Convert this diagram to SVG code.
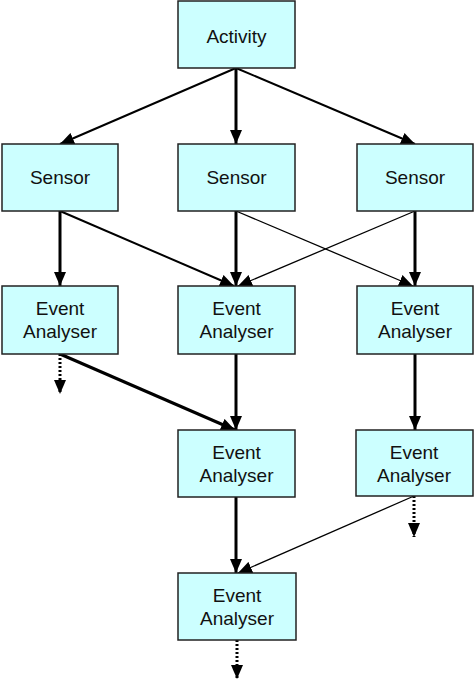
<svg xmlns="http://www.w3.org/2000/svg" width="474" height="685" viewBox="0 0 474 685">
<style>
.box{fill:#ccffff;stroke:#222;stroke-width:1.5}
.t{font-family:"Liberation Sans",Arial,sans-serif;font-size:19px;fill:#111;text-anchor:middle}
.c{fill:none;stroke:#000}
.thick{stroke-width:3}
.med{stroke-width:2}
.thin{stroke-width:1.3}
.dot{stroke-width:3;stroke-dasharray:2,2}
</style>
<defs>
<marker id="ah" markerUnits="userSpaceOnUse" markerWidth="14" markerHeight="12" viewBox="0 0 14 12" refX="14" refY="6" orient="auto">
<path d="M0,0 L14,6 L0,12 z" fill="#000"/>
</marker>
</defs>
<rect width="474" height="685" fill="#fff"/>
<g id="connectors">
<line class="c med" x1="236" y1="68" x2="60" y2="144" marker-end="url(#ah)"/>
<line class="c thick" x1="236" y1="68" x2="236" y2="144" marker-end="url(#ah)"/>
<line class="c med" x1="236" y1="68" x2="415" y2="144" marker-end="url(#ah)"/>
<line class="c thick" x1="60" y1="211" x2="60" y2="286" marker-end="url(#ah)"/>
<line class="c med" x1="60" y1="211" x2="234" y2="286" marker-end="url(#ah)"/>
<line class="c thick" x1="236" y1="211" x2="236" y2="286" marker-end="url(#ah)"/>
<line class="c thin" x1="236" y1="211" x2="413" y2="286" marker-end="url(#ah)"/>
<line class="c thin" x1="415" y1="211" x2="238" y2="286" marker-end="url(#ah)"/>
<line class="c thick" x1="415" y1="211" x2="415" y2="286" marker-end="url(#ah)"/>
<line class="c dot" x1="60" y1="354" x2="60" y2="394" marker-end="url(#ah)"/>
<line class="c thick" x1="60" y1="354" x2="235" y2="430" marker-end="url(#ah)"/>
<line class="c thick" x1="236" y1="354" x2="236" y2="430" marker-end="url(#ah)"/>
<line class="c thick" x1="415" y1="354" x2="415" y2="430" marker-end="url(#ah)"/>
<line class="c dot" x1="414" y1="496" x2="414" y2="537" marker-end="url(#ah)"/>
<line class="c thin" x1="414" y1="496" x2="238" y2="573" marker-end="url(#ah)"/>
<line class="c thick" x1="236" y1="497" x2="236" y2="573" marker-end="url(#ah)"/>
<line class="c dot" x1="237" y1="640" x2="237" y2="679" marker-end="url(#ah)"/>
</g>
<g id="activity"><rect class="box" x="178" y="1" width="117" height="67"/><text class="t" x="236.5" y="43">Activity</text></g>
<g id="sensor1"><rect class="box" x="2" y="144" width="116" height="67"/><text class="t" x="60" y="184">Sensor</text></g>
<g id="sensor2"><rect class="box" x="178" y="144" width="117" height="67"/><text class="t" x="236.5" y="184">Sensor</text></g>
<g id="sensor3"><rect class="box" x="357" y="144" width="116" height="67"/><text class="t" x="415" y="184">Sensor</text></g>
<g id="ea1"><rect class="box" x="2" y="286" width="116" height="68"/><text class="t" x="60" y="315">Event</text><text class="t" x="60" y="338">Analyser</text></g>
<g id="ea2"><rect class="box" x="178" y="286" width="117" height="68"/><text class="t" x="236.5" y="315">Event</text><text class="t" x="236.5" y="338">Analyser</text></g>
<g id="ea3"><rect class="box" x="357" y="286" width="116" height="68"/><text class="t" x="415" y="315">Event</text><text class="t" x="415" y="338">Analyser</text></g>
<g id="ea4"><rect class="box" x="178" y="430" width="117" height="67"/><text class="t" x="236.5" y="459">Event</text><text class="t" x="236.5" y="482">Analyser</text></g>
<g id="ea5"><rect class="box" x="356" y="430" width="117" height="66"/><text class="t" x="414" y="459">Event</text><text class="t" x="414" y="482">Analyser</text></g>
<g id="ea6"><rect class="box" x="178" y="573" width="118" height="67"/><text class="t" x="237" y="602">Event</text><text class="t" x="237" y="625">Analyser</text></g>
</svg>
